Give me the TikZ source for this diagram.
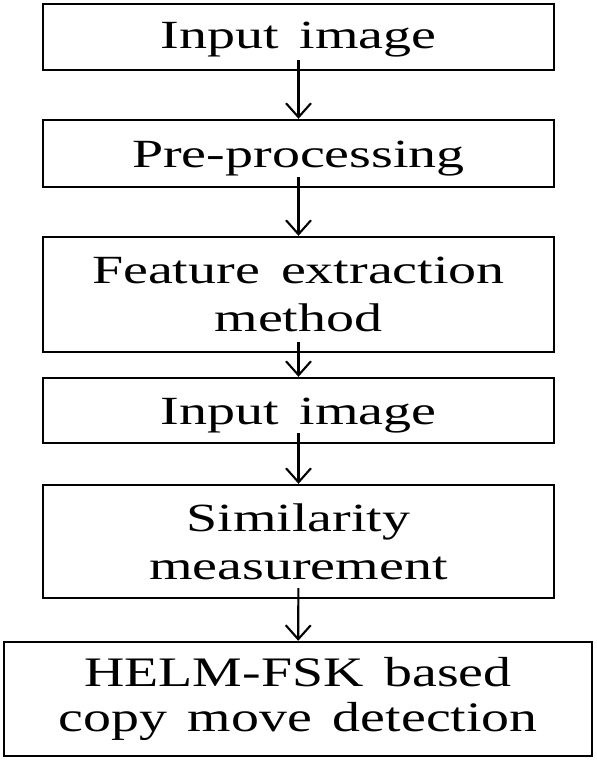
\documentclass[tikz,border=0pt]{standalone}
\usepackage{graphicx}
\usepackage{fontspec}
\setmainfont{Liberation Serif}[WordSpace=1.5]
\usetikzlibrary{arrows.meta}
\newcommand\stretchtext[1]{\scalebox{1.40}[1]{#1}}
\newcommand\stretchtextb[1]{\scalebox{1.33}[1]{#1}}
\tikzset{
  flowbox/.style={draw=black, line width=2.4pt, fill=white, inner sep=0pt,
    minimum width=511pt, align=center,
    font=\fontsize{40}{48}\selectfont},
  flowarrow/.style={line width=2.1pt, shorten <=-11pt,
    -{Straight Barb[length=14pt,width=25pt,line width=2.1pt]}}
}
\begin{document}
\begin{tikzpicture}[x=1pt,y=-1pt]
\useasboundingbox (0,0) rectangle (597,761);
\fill[white] (0,0) rectangle (597,761);
\node[flowbox, minimum height=66pt, text height=32pt, text depth=9pt] (b1) at (298.5,37) {\stretchtext{Input image}};
\node[flowbox, minimum height=67pt, text height=37pt, text depth=9pt] (b2) at (298.5,153.5) {\stretchtext{Pre-processing}};
\node[flowbox, minimum height=115pt] (b3) at (298.5,294.5) {\stretchtext{Feature extraction}\\\stretchtext{method}};
\node[flowbox, minimum height=65pt, text height=37pt, text depth=9pt] (b4) at (298.5,410.5) {\stretchtext{Input image}};
\node[flowbox, minimum height=113pt] (b5) at (298.5,541.5) {\stretchtext{Similarity}\\\stretchtext{measurement}};
\node[flowbox, minimum height=114pt, minimum width=588pt,
  font=\fontsize{42}{45}\selectfont] (b6) at (298,699) {\stretchtextb{HELM-FSK based}\\\stretchtextb{copy move detection}};
\draw[flowarrow] (b1) -- (b2);
\draw[flowarrow] (b2) -- (b3);
\draw[flowarrow] (b3) -- (b4);
\draw[flowarrow] (b4) -- (b5);
\draw[flowarrow] (b5) -- (b6);
\end{tikzpicture}
\end{document}
